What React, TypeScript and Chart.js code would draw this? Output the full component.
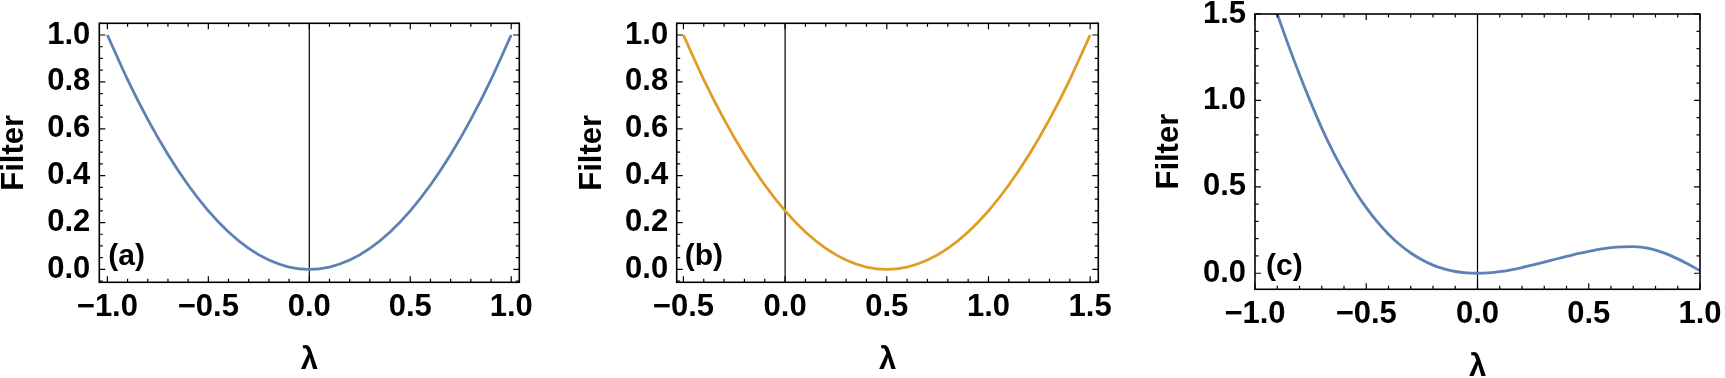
import React, { useEffect, useRef } from "react";
import { Chart, registerables } from "chart.js";

Chart.register(...registerables);

// ---------- data ----------
const LAMBDA_A = [-1.0, -0.9, -0.8, -0.7, -0.6, -0.5, -0.4, -0.3, -0.2, -0.1, 0.0, 0.1, 0.2, 0.3, 0.4, 0.5, 0.6, 0.7, 0.8, 0.9, 1.0];
const FILTER_A = [1.0, 0.81, 0.64, 0.49, 0.36, 0.25, 0.16, 0.09, 0.04, 0.01, 0.0, 0.01, 0.04, 0.09, 0.16, 0.25, 0.36, 0.49, 0.64, 0.81, 1.0];

const LAMBDA_B = [-0.5, -0.4, -0.3, -0.2, -0.1, 0.0, 0.1, 0.2, 0.3, 0.4, 0.5, 0.6, 0.7, 0.8, 0.9, 1.0, 1.1, 1.2, 1.3, 1.4, 1.5];
const FILTER_B = [1.0, 0.81, 0.64, 0.49, 0.36, 0.25, 0.16, 0.09, 0.04, 0.01, 0.0, 0.01, 0.04, 0.09, 0.16, 0.25, 0.36, 0.49, 0.64, 0.81, 1.0];

const LAMBDA_C = [-0.9, -0.85, -0.8, -0.75, -0.7, -0.65, -0.6, -0.55, -0.5, -0.45, -0.4, -0.35, -0.3, -0.25, -0.2, -0.15, -0.1, -0.05, 0.0, 0.05, 0.1, 0.15, 0.2, 0.25, 0.3, 0.35, 0.4, 0.45, 0.5, 0.55, 0.6, 0.65, 0.7, 0.75, 0.8, 0.85, 0.9, 0.95, 1.0];
const FILTER_C = [1.5, 1.32, 1.15, 0.99, 0.84, 0.705, 0.585, 0.475, 0.38, 0.297, 0.226, 0.166, 0.117, 0.078, 0.047, 0.025, 0.01, 0.002, 0.0, 0.002, 0.009, 0.02, 0.033, 0.048, 0.064, 0.081, 0.097, 0.113, 0.127, 0.139, 0.148, 0.153, 0.154, 0.148, 0.134, 0.112, 0.083, 0.05, 0.015];

const XTICKS_A = [-1.0, -0.5, 0.0, 0.5, 1.0];
const YTICKS_A = [0.0, 0.2, 0.4, 0.6, 0.8, 1.0];
const XTICKS_B = [-0.5, 0.0, 0.5, 1.0, 1.5];
const YTICKS_B = [0.0, 0.2, 0.4, 0.6, 0.8, 1.0];
const XTICKS_C = [-1.0, -0.5, 0.0, 0.5, 1.0];
const YTICKS_C = [0.0, 0.5, 1.0, 1.5];

const PANEL_LABELS = ["(a)", "(b)", "(c)"];
const X_TITLE = "λ";
const Y_TITLE = "Filter";

// ---------- styling / layout ----------
const BLUE = "#5E81B5";
const ORANGE = "#E19C24";
const FONT_FAMILY = '"Liberation Sans", Arial, Helvetica, sans-serif';
const H = 378;

type Panel = {
  left: number; width: number;
  xs: number[]; ys: number[]; color: string;
  xticks: number[]; yticks: number[];
  xmin: number; xmax: number; ymin: number; ymax: number;
  xMinorStep: number; yMinorStep: number;
  label: string;
  padTop: number; padRight: number; yAxisW: number; xAxisH: number;
  xTitlePadBottom: number; yTitlePadTop: number; yTickPad: number; xTickPad: number;
  labelDx: number; labelDy: number;
};

const PANELS: Panel[] = [
  {
    left: 0, width: 575, xs: LAMBDA_A, ys: FILTER_A, color: BLUE,
    xticks: XTICKS_A, yticks: YTICKS_A,
    xmin: -1.04, xmax: 1.04, ymin: -0.055, ymax: 1.05,
    xMinorStep: 0.1, yMinorStep: 0.05, label: PANEL_LABELS[0],
    padTop: 23.3, padRight: 55.7, yAxisW: 99.3, xAxisH: 95.7,
    xTitlePadBottom: 2.5, yTitlePadTop: -1.5, yTickPad: 9, xTickPad: 10,
    labelDx: 9, labelDy: 25.6,
  },
  {
    left: 575, width: 575, xs: LAMBDA_B, ys: FILTER_B, color: ORANGE,
    xticks: XTICKS_B, yticks: YTICKS_B,
    xmin: -0.533, xmax: 1.54, ymin: -0.055, ymax: 1.05,
    xMinorStep: 0.1, yMinorStep: 0.05, label: PANEL_LABELS[1],
    padTop: 23.3, padRight: 51.7, yAxisW: 101.7, xAxisH: 95.7,
    xTitlePadBottom: 2.5, yTitlePadTop: 1.5, yTickPad: 8.5, xTickPad: 10,
    labelDx: 8, labelDy: 25.6,
  },
  {
    left: 1150, width: 575, xs: LAMBDA_C, ys: FILTER_C, color: BLUE,
    xticks: XTICKS_C, yticks: YTICKS_C,
    xmin: -1.0, xmax: 1.0, ymin: -0.093, ymax: 1.5,
    xMinorStep: 0.1, yMinorStep: 0.1, label: PANEL_LABELS[2],
    padTop: 14, padRight: 25, yAxisW: 105, xAxisH: 88.7,
    xTitlePadBottom: -4.5, yTitlePadTop: 3.5, yTickPad: 9, xTickPad: 10,
    labelDx: 11, labelDy: 22.6,
  },
];

const fmt = (v: number) => (v < 0 ? "\u2212" : "") + Math.abs(v).toFixed(1);

const framePlugin = {
  id: "mmaFrame",
  beforeDatasetsDraw(chart: any) {
    const { ctx, chartArea, scales } = chart;
    const zx = scales.x.getPixelForValue(0);
    ctx.save();
    ctx.strokeStyle = "#000";
    ctx.lineWidth = 1.2;
    ctx.beginPath();
    ctx.moveTo(zx, chartArea.top);
    ctx.lineTo(zx, chartArea.bottom);
    ctx.stroke();
    ctx.restore();
  },
  afterDatasetsDraw(chart: any, _args: any, opts: any) {
    const p: Panel = opts.panel;
    const { ctx, chartArea, scales } = chart;
    const { left, right, top, bottom } = chartArea;
    const x = scales.x;
    const y = scales.y;
    ctx.save();
    ctx.strokeStyle = "#000";
    ctx.lineWidth = 1.6;
    ctx.strokeRect(left, top, right - left, bottom - top);

    const MAJ = 6;
    const MIN = 3.5;
    ctx.lineWidth = 1.2;
    ctx.beginPath();
    const isMajor = (v: number, arr: number[]) => arr.some((t) => Math.abs(t - v) < 1e-6);
    for (let k = Math.ceil(p.xmin / p.xMinorStep - 1e-9); k <= Math.floor(p.xmax / p.xMinorStep + 1e-9); k++) {
      const v = k * p.xMinorStep;
      const px = x.getPixelForValue(v);
      const len = isMajor(v, p.xticks) ? MAJ : MIN;
      ctx.moveTo(px, bottom);
      ctx.lineTo(px, bottom - len);
      ctx.moveTo(px, top);
      ctx.lineTo(px, top + len);
    }
    for (let k = Math.ceil(p.ymin / p.yMinorStep - 1e-9); k <= Math.floor(p.ymax / p.yMinorStep + 1e-9); k++) {
      const v = k * p.yMinorStep;
      const py = y.getPixelForValue(v);
      const len = isMajor(v, p.yticks) ? MAJ : MIN;
      ctx.moveTo(left, py);
      ctx.lineTo(left + len, py);
      ctx.moveTo(right, py);
      ctx.lineTo(right - len, py);
    }
    ctx.stroke();

    ctx.fillStyle = "#000";
    ctx.font = `bold 30px ${FONT_FAMILY}`;
    ctx.textAlign = "left";
    ctx.textBaseline = "middle";
    ctx.fillText(p.label, left + p.labelDx, bottom - p.labelDy);
    ctx.restore();
  },
};

function PanelChart({ p }: { p: Panel }) {
  const ref = useRef<HTMLCanvasElement | null>(null);
  useEffect(() => {
    if (!ref.current) return;
    const tickFont = { family: FONT_FAMILY, size: 31, weight: "bold" as const, lineHeight: 1 };
    const chart = new Chart(ref.current, {
      type: "line",
      data: {
        datasets: [
          {
            data: p.xs.map((xv, i) => ({ x: xv, y: p.ys[i] })),
            borderColor: p.color,
            borderWidth: 2.8,
            pointRadius: 0,
            fill: false,
            cubicInterpolationMode: "monotone",
          },
        ],
      },
      options: {
        animation: false,
        responsive: false,
        maintainAspectRatio: false,
        devicePixelRatio: 1,
        layout: { padding: { left: 0, right: p.padRight, top: p.padTop, bottom: 0 } },
        plugins: {
          legend: { display: false },
          tooltip: { enabled: false },
          mmaFrame: { panel: p },
        } as any,
        scales: {
          x: {
            type: "linear",
            min: p.xmin,
            max: p.xmax,
            afterBuildTicks: (s: any) => {
              s.ticks = p.xticks.map((v) => ({ value: v }));
            },
            afterFit: (s: any) => {
              s.height = p.xAxisH;
              s.paddingLeft = 0;
              s.paddingRight = 0;
            },
            grid: { display: false, drawTicks: false },
            border: { display: false },
            ticks: {
              padding: p.xTickPad,
              font: tickFont,
              color: "#000",
              autoSkip: false,
              maxRotation: 0,
              minRotation: 0,
              callback: (v: any) => fmt(Number(v)),
            },
            title: {
              display: true,
              text: X_TITLE,
              color: "#000",
              font: tickFont,
              padding: { top: 0, bottom: p.xTitlePadBottom },
            },
          },
          y: {
            type: "linear",
            min: p.ymin,
            max: p.ymax,
            afterBuildTicks: (s: any) => {
              s.ticks = p.yticks.map((v) => ({ value: v }));
            },
            afterFit: (s: any) => {
              s.width = p.yAxisW;
              s.paddingTop = 0;
              s.paddingBottom = 0;
            },
            grid: { display: false, drawTicks: false },
            border: { display: false },
            ticks: {
              padding: p.yTickPad,
              font: tickFont,
              color: "#000",
              autoSkip: false,
              callback: (v: any) => fmt(Number(v)),
            },
            title: {
              display: true,
              text: Y_TITLE,
              color: "#000",
              font: tickFont,
              padding: { top: p.yTitlePadTop, bottom: 0 },
            },
          },
        },
      },
      plugins: [framePlugin],
    } as any);
    return () => chart.destroy();
  }, [p]);
  return (
    <canvas
      ref={ref}
      width={p.width}
      height={H}
      style={{ position: "absolute", left: p.left, top: 0, width: p.width, height: H }}
    />
  );
}

export default function App() {
  return (
    <div style={{ position: "absolute", left: 0, top: 0, width: 1725, height: H, background: "#fff", overflow: "hidden" }}>
      {PANELS.map((p, i) => (
        <PanelChart key={i} p={p} />
      ))}
    </div>
  );
}
